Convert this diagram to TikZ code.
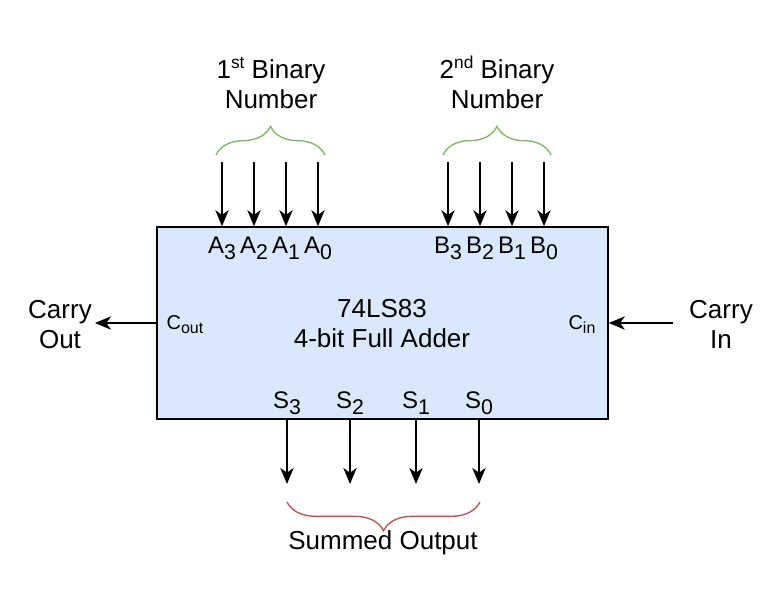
\documentclass[tikz,border=0pt]{standalone}
\usepackage{fontspec}
\setmainfont{Liberation Sans}
\usepackage{tikz}
\usetikzlibrary{arrows.meta}
\usetikzlibrary{decorations.pathreplacing}
\usetikzlibrary{positioning}

\definecolor{adderfill}{HTML}{DAE8FC}
\definecolor{bracegreen}{HTML}{82B366}
\definecolor{bracered}{HTML}{B85450}

\newcommand{\pinsub}[1]{\raisebox{-5pt}{\fontsize{16}{16}\selectfont #1}}
\newcommand{\carrysub}[1]{\raisebox{-3pt}{\fontsize{12}{12}\selectfont #1}}
\newcommand{\ordsup}[1]{\raisebox{7pt}{\fontsize{13}{13}\selectfont #1}}

\tikzset{
  sig/.style={-{Stealth[length=12pt,width=10pt,inset=3.5pt]}, line width=1.3pt},
  pin/.style={font=\fontsize{18}{18}\selectfont, inner sep=0pt, anchor=base},
  cpin/.style={font=\fontsize{15}{15}\selectfont, inner sep=0pt, anchor=base},
  txt/.style={font=\fontsize{19.5}{22.5}\selectfont, align=center, inner sep=0pt, anchor=base},
  brc/.style={decorate, decoration={brace, amplitude=21.5pt}, line width=1pt},
}

\begin{document}
\begin{tikzpicture}[x=0.75pt,y=-0.75pt]
      \useasboundingbox (0,0) rectangle (783,600);
      % the adder chip
      \node[draw, fill=adderfill, line width=1.2pt, inner sep=0pt,
        minimum width=338.25pt, minimum height=144pt] (adder) at (382.5,323) {};
      \node[txt] (name) at (382,347) {74LS83\\4-bit Full Adder};

      % input labels
      \node[txt] (numa) at (271,108) {1\ordsup{st} Binary\\Number};
      \node[txt] (numb) at (497,108) {2\ordsup{nd} Binary\\Number};
      \node[txt] (cout) at (60,348) {Carry\\Out};
      \node[txt] (cin) at (721,348) {Carry\\In};
      \node[txt] (sum) at (383,549) {Summed Output};

      % pins
      \node[pin] (a3) at (222,253) {A\pinsub{3}};
      \node[pin] (a2) at (254,253) {A\pinsub{2}};
      \node[pin] (a1) at (286,253) {A\pinsub{1}};
      \node[pin] (a0) at (318,253) {A\pinsub{0}};
      \node[pin] (b3) at (448,253) {B\pinsub{3}};
      \node[pin] (b2) at (480,253) {B\pinsub{2}};
      \node[pin] (b1) at (512,253) {B\pinsub{1}};
      \node[pin] (b0) at (544,253) {B\pinsub{0}};
      \node[pin] (s3) at (287,408) {S\pinsub{3}};
      \node[pin] (s2) at (350,408) {S\pinsub{2}};
      \node[pin] (s1) at (416,408) {S\pinsub{1}};
      \node[pin] (s0) at (479,408) {S\pinsub{0}};
      \node[cpin] (cpout) at (185,329) {C\carrysub{out}};
      \node[cpin] (cpin) at (582,329) {C\carrysub{in}};

      % free ends
      \coordinate (a3t) at (222,162);
      \coordinate (a2t) at (254,162);
      \coordinate (a1t) at (286,162);
      \coordinate (a0t) at (318,162);
      \coordinate (b3t) at (448,162);
      \coordinate (b2t) at (480,162);
      \coordinate (b1t) at (512,162);
      \coordinate (b0t) at (544,162);
      \coordinate (s3e) at (287,484);
      \coordinate (s2e) at (350,484);
      \coordinate (s1e) at (416,484);
      \coordinate (s0e) at (479,484);
      \coordinate (coute) at (95,323);
      \coordinate (cins) at (673,323);

      \draw [sig] (a3t) -- (a3t |- adder.north);
      \draw [sig] (a2t) -- (a2t |- adder.north);
      \draw [sig] (a1t) -- (a1t |- adder.north);
      \draw [sig] (a0t) -- (a0t |- adder.north);
      \draw [sig] (b3t) -- (b3t |- adder.north);
      \draw [sig] (b2t) -- (b2t |- adder.north);
      \draw [sig] (b1t) -- (b1t |- adder.north);
      \draw [sig] (b0t) -- (b0t |- adder.north);
      \draw [sig] (s3e |- adder.south) -- (s3e);
      \draw [sig] (s2e |- adder.south) -- (s2e);
      \draw [sig] (s1e |- adder.south) -- (s1e);
      \draw [sig] (s0e |- adder.south) -- (s0e);
      \draw [sig] (adder.west) -- (coute);
      \draw [sig] (cins) -- (adder.east);

      % braces
      \draw [brc, bracegreen] (216,155) -- (325,155);
      \draw [brc, bracegreen] (443,155) -- (551,155);
      \draw [brc, bracered] (480,502) -- (287,502);
    \end{tikzpicture}
\end{document}
